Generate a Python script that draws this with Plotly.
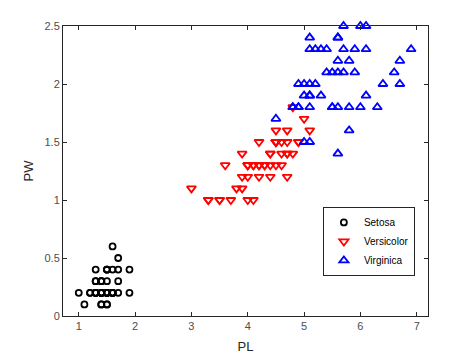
import plotly.graph_objects as go

setosa_pl = [1.4,1.4,1.3,1.5,1.4,1.7,1.4,1.5,1.4,1.5,1.5,1.6,1.4,1.1,1.2,1.5,1.3,1.4,1.7,1.5,
             1.7,1.5,1.0,1.7,1.9,1.6,1.6,1.5,1.4,1.6,1.6,1.5,1.5,1.4,1.5,1.2,1.3,1.4,1.3,1.5,
             1.3,1.3,1.3,1.6,1.9,1.4,1.6,1.4,1.5,1.4]
setosa_pw = [0.2,0.2,0.2,0.2,0.2,0.4,0.3,0.2,0.2,0.1,0.2,0.2,0.1,0.1,0.2,0.4,0.4,0.3,0.3,0.3,
             0.2,0.4,0.2,0.5,0.2,0.2,0.4,0.2,0.2,0.2,0.2,0.4,0.1,0.2,0.2,0.2,0.2,0.1,0.2,0.2,
             0.3,0.3,0.2,0.6,0.4,0.3,0.2,0.2,0.2,0.2]
versicolor_pl = [4.7,4.5,4.9,4.0,4.6,4.5,4.7,3.3,4.6,3.9,3.5,4.2,4.0,4.7,3.6,4.4,4.5,4.1,4.5,3.9,
                 4.8,4.0,4.9,4.7,4.3,4.4,4.8,5.0,4.5,3.5,3.8,3.7,3.9,5.1,4.5,4.5,4.7,4.4,4.1,4.0,
                 4.4,4.6,4.0,3.3,4.2,4.2,4.2,4.3,3.0,4.1]
versicolor_pw = [1.4,1.5,1.5,1.3,1.5,1.3,1.6,1.0,1.3,1.4,1.0,1.5,1.0,1.4,1.3,1.4,1.5,1.0,1.5,1.1,
                 1.8,1.3,1.5,1.2,1.3,1.4,1.4,1.7,1.5,1.0,1.1,1.0,1.2,1.6,1.5,1.6,1.5,1.3,1.3,1.3,
                 1.2,1.4,1.2,1.0,1.3,1.2,1.3,1.3,1.1,1.3]
virginica_pl = [6.0,5.1,5.9,5.6,5.8,6.6,4.5,6.3,5.8,6.1,5.1,5.3,5.5,5.0,5.1,5.3,5.5,6.7,6.9,5.0,
                5.7,4.9,6.7,4.9,5.7,6.0,4.8,4.9,5.6,5.8,6.1,6.4,5.6,5.1,5.6,6.1,5.6,5.5,4.8,5.4,
                5.6,5.1,5.1,5.9,5.7,5.2,5.0,5.2,5.4,5.1]
virginica_pw = [2.5,1.9,2.1,1.8,2.2,2.1,1.7,1.8,1.8,2.5,2.0,1.9,2.1,2.0,2.4,2.3,1.8,2.2,2.3,1.5,
                2.3,2.0,2.0,1.8,2.1,1.8,1.8,1.8,2.1,1.6,1.9,2.0,2.2,1.5,1.4,2.3,2.4,1.8,1.8,2.1,
                2.4,2.3,1.9,2.3,2.5,2.3,1.9,2.0,2.3,1.8]

x_ticks = [1, 2, 3, 4, 5, 6, 7]
y_ticks = [0, 0.5, 1, 1.5, 2, 2.5]
y_ticklabels = ["0", "0.5", "1", "1.5", "2", "2.5"]

font = "Liberation Sans, Arial, sans-serif"
fig = go.Figure()
fig.add_trace(go.Scatter(x=setosa_pl, y=setosa_pw, mode="markers", name="Setosa", cliponaxis=False,
                         marker=dict(symbol="circle-open", size=6, color="black", line=dict(width=1.8, color="black"))))
fig.add_trace(go.Scatter(x=versicolor_pl, y=versicolor_pw, mode="markers", name="Versicolor", cliponaxis=False,
                         marker=dict(symbol="triangle-down-open", size=8, color="red", line=dict(width=1.8, color="red"))))
fig.add_trace(go.Scatter(x=virginica_pl, y=virginica_pw, mode="markers", name="Virginica", cliponaxis=False,
                         marker=dict(symbol="triangle-up-open", size=8, color="blue", line=dict(width=1.8, color="blue"))))

axis_common = dict(showgrid=False, zeroline=False, showline=True, linecolor="#262626", linewidth=1,
                   mirror="ticks", ticks="inside", ticklen=4, tickcolor="#262626", automargin=False,
                   tickfont=dict(family=font, size=11, color="#4d4d4d"))
fig.update_layout(
    width=466, height=347,
    margin=dict(l=55, r=46, t=18, b=39),
    paper_bgcolor="white", plot_bgcolor="white",
    font=dict(family=font),
    xaxis=dict(range=[0.72, 7.2], tickvals=x_ticks, ticktext=[str(v) for v in x_ticks],
               title=dict(text="PL", font=dict(family=font, size=13, color="#262626"), standoff=10), **axis_common),
    yaxis=dict(range=[0, 2.5], tickvals=y_ticks, ticktext=y_ticklabels,
               title=dict(text="PW", font=dict(family=font, size=13, color="#262626"), standoff=7), **axis_common),
    legend=dict(x=0.712, y=0.376, xanchor="left", yanchor="top", bgcolor="white",
                bordercolor="#262626", borderwidth=1, font=dict(family=font, size=10, color="black"),
                itemwidth=30, tracegroupgap=0),
    showlegend=True,
)
fig.write_html("out.html")
